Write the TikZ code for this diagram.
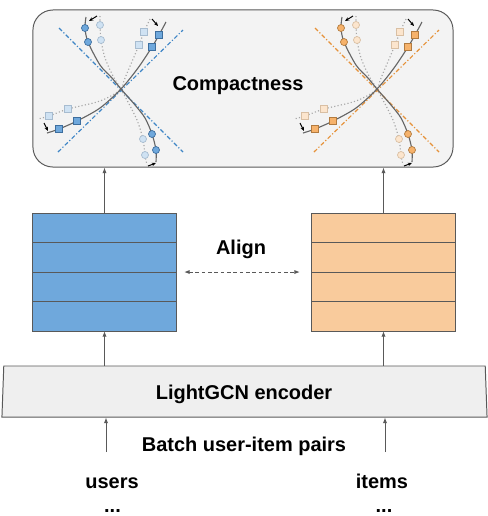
\documentclass[tikz,border=0pt]{standalone}
\usepackage{fontspec}
\setmainfont{Liberation Sans}
\usetikzlibrary{shapes.geometric,positioning,arrows.meta}

\definecolor{edge}{HTML}{595959}
\definecolor{boxfill}{HTML}{F3F3F3}
\definecolor{encfill}{HTML}{EFEFEF}
\definecolor{ustack}{HTML}{6FA8DC}
\definecolor{istack}{HTML}{F9CB9C}
\definecolor{udarkfill}{HTML}{6FA8DC}
\definecolor{udarkline}{HTML}{3D6E9E}
\definecolor{ulightfill}{HTML}{CFE2F3}
\definecolor{ulightline}{HTML}{A7BCD0}
\definecolor{uaxis}{HTML}{3D85C6}
\definecolor{idarkfill}{HTML}{F6B26B}
\definecolor{idarkline}{HTML}{B27B3F}
\definecolor{ilightfill}{HTML}{FCE5CD}
\definecolor{ilightline}{HTML}{D9BFA3}
\definecolor{iaxis}{HTML}{E69138}

\tikzset{
  txt/.style={font=\bfseries\fontsize{14.2}{17}\selectfont, inner sep=0pt, anchor=base},
  row/.style={draw=edge, line width=0.7pt, outer sep=0pt, inner sep=0pt,
    minimum width=3.575cm, minimum height=0.7375cm},
  urow/.style={row, fill=ustack},
  irow/.style={row, fill=istack},
  arr/.style={draw=edge, line width=0.7pt, -{Latex[length=4pt,width=3pt]}},
  darr/.style={draw=edge, line width=0.7pt, dash pattern=on 2.5pt off 2pt,
    {Latex[length=4pt,width=3pt]}-{Latex[length=4pt,width=3pt]}},
  axisln/.style={line width=0.8pt, dash pattern=on 3pt off 1.5pt on 0.8pt off 1.5pt},
  oldpath/.style={draw=gray!70, line width=0.8pt, dash pattern=on 0.8pt off 1.6pt},
  newpath/.style={draw=black!60, line width=0.8pt},
  move/.style={black, line width=0.7pt, -{Stealth[length=3pt,width=2.5pt]}},
}

\begin{document}
\begin{tikzpicture}[x=0.025cm, y=-0.025cm]
    \useasboundingbox (0,0) rectangle (488,516);
    % Compactness box
    \node[draw=edge, fill=boxfill, line width=0.7pt, rounded corners=0.5cm,
      minimum width=10.5cm, minimum height=3.925cm] (compact) at (243,88.5) {};
    \node[txt] (compactlbl) at (238,90) {Compactness};
    % Embedding clusters (users left, items right)
    \foreach \dx/\df/\dl/\lf/\ll/\ax in {0/udarkfill/udarkline/ulightfill/ulightline/uaxis,
                                         256/idarkfill/idarkline/ilightfill/ilightline/iaxis} {
      \begin{scope}[shift={(\dx,0)}]
        \draw[axisln, draw=\ax] (59,28) -- (183,152);
        \draw[axisln, draw=\ax] (58,152) -- (183,30);
        \draw[oldpath] plot[smooth] coordinates {(100,16) (100,25) (101,40) (105,58) (113,76) (121,89) (128,102) (137,120) (143,139) (145,155) (147,165)};
        \draw[oldpath] plot[smooth] coordinates {(150,19) (144,32) (139,45) (125,78) (120,90) (100,101) (68,109) (49,116) (38,119)};
        \draw[newpath] plot[smooth] coordinates {(86,17) (85,28) (88,42) (100,65) (112,78) (121,89) (135,105) (145,118) (152,134) (156,150) (156,162)};
        \draw[newpath] plot[smooth] coordinates {(166,22) (159,35) (152,47) (138,68) (121,89) (100,108) (77,121) (59,129) (47,133)};
        % old positions
        \foreach \p in {(100,25), (101,40), (143,139), (145,155)}
          \draw[fill=\lf, draw=\ll, line width=0.5pt] \p circle[radius=0.0875cm];
        \foreach \p in {(144,32), (139,45), (68,109), (49,116)}
          \draw[fill=\lf, draw=\ll, line width=0.5pt] \p +(-3.5,-3.5) rectangle +(3.5,3.5);
        % new positions
        \foreach \p in {(85,28), (88,42), (152,134), (156,150)}
          \draw[fill=\df, draw=\dl, line width=0.5pt] \p circle[radius=0.0875cm];
        \foreach \p in {(159,35), (152,47), (77,121), (59,129)}
          \draw[fill=\df, draw=\dl, line width=0.5pt] \p +(-3.5,-3.5) rectangle +(3.5,3.5);
        % shifts
        \draw[move] (97,16) -- (89,21);
        \draw[move] (152,19) -- (158,26);
        \draw[move] (44,123) -- (48,131);
        \draw[move] (148,166) -- (156,163);
      \end{scope}
    }
    % Embedding tables
    \node[urow] (u1) at (104.5,227.75) {};
    \node[urow, below=0pt of u1] (u2) {};
    \node[urow, below=0pt of u2] (u3) {};
    \node[urow, below=0pt of u3] (u4) {};
    \node[irow] (i1) at (383.5,227.75) {};
    \node[irow, below=0pt of i1] (i2) {};
    \node[irow, below=0pt of i2] (i3) {};
    \node[irow, below=0pt of i3] (i4) {};
    \node[txt] (alignlbl) at (241,254) {Align};
    \draw[darr, shorten <=0.2cm, shorten >=0.3cm] (u2.south east) -- (i2.south west);
    \draw[arr] (u1.north) -- (u1.north |- compact.south);
    \draw[arr] (i1.north) -- (i1.north |- compact.south);
    % Encoder
    \node[trapezium, draw=edge, fill=encfill, line width=0.7pt,
      trapezium left angle=78.9, trapezium right angle=78.9, trapezium stretches body,
      minimum width=12.125cm, minimum height=1.275cm] (encoder) at (244.5,391.5) {};
    \node[txt] (enclbl) at (244,399) {LightGCN encoder};
    \draw[arr] (encoder.north -| u4.south) -- (u4.south);
    \draw[arr] (encoder.north -| i4.south) -- (i4.south);
    % Inputs
    \node[txt] (batchlbl) at (244,451) {Batch user-item pairs};
    \coordinate (uin) at (106,452);
    \coordinate (iin) at (385,452);
    \draw[arr] (uin) -- (uin |- encoder.south);
    \draw[arr] (iin) -- (iin |- encoder.south);
    \node[txt] (users) at (112,488) {users};
    \node[txt] (items) at (382,488) {items};
    \node[txt] (udots) at (112.5,512) {...};
    \node[txt] (idots) at (384,512) {...};
\end{tikzpicture}
\end{document}
